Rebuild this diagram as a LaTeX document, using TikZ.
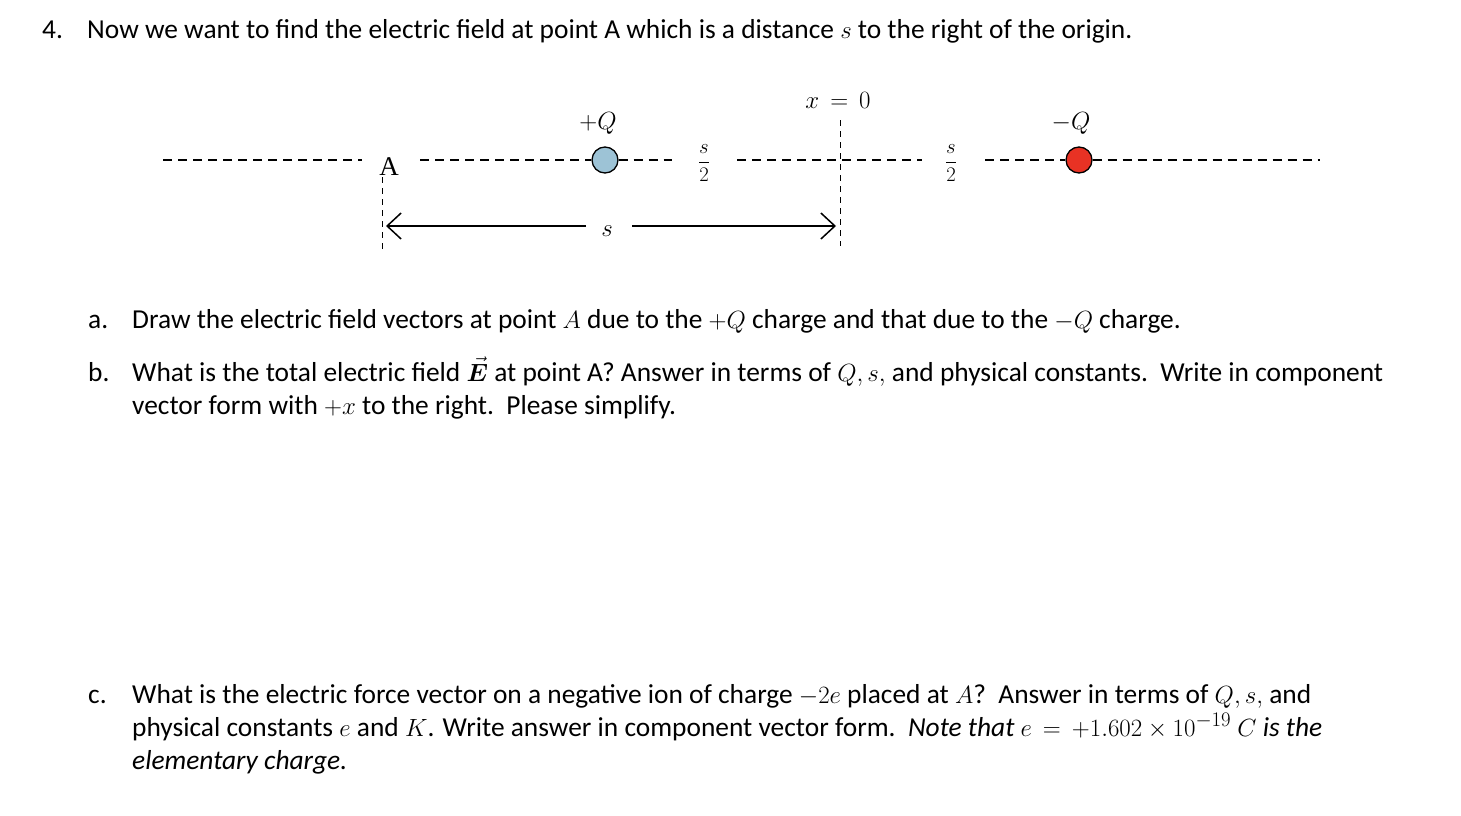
\documentclass[tikz,border=0pt]{standalone}
\usepackage{amsmath,bm}
\usepackage{fontspec}
\setmainfont{Carlito}
\usetikzlibrary{arrows.meta}
\begin{document}
\begin{tikzpicture}[x=1pt,y=-1pt,
  txt/.style={anchor=base west,inner sep=0pt,font=\fontsize{27.4}{30}\selectfont},
  dsh/.style={line width=1.4pt,dash pattern=on 9pt off 6pt},
  vd/.style={line width=1pt,dash pattern=on 6pt off 5pt},
  mth/.style={inner sep=0pt,font=\fontsize{26}{28}\selectfont},
  arr/.style={line width=1.5pt,-{Straight Barb[length=14pt,width=26pt,line width=1.5pt]}}]
\useasboundingbox (0,0) rectangle (1461,816);
\node[txt] (n4) at (42,38) {4.};
\node[txt] (t4) at (87,38) {Now we want to find the electric field at point A which is a distance $s$ to the right of the origin.};
% axis
\coordinate (l0) at (163,160); \coordinate (l1) at (362,160);
\draw[dsh] (l0) -- (l1);
\node[inner sep=0pt,font=\fontsize{27}{28}\selectfont] (A) at (389,167) {\fontspec{Liberation Serif}A};
\node[circle,draw=black,line width=1.3pt,fill={rgb,255:red,157;green,195;blue,214},minimum size=26pt,inner sep=0pt] (pq) at (605,160) {};
\node[circle,draw=black,line width=1.3pt,fill={rgb,255:red,232;green,50;blue,36},minimum size=26pt,inner sep=0pt] (nq) at (1079,160) {};
\coordinate (a1) at (420,160);
\draw[dsh] (a1) -- (pq.west);
\coordinate (a2) at (672,160);
\draw[dsh] (pq.east) -- (a2);
\coordinate (a3) at (737,160); \coordinate (a4) at (922,160);
\draw[dsh] (a3) -- (a4);
\coordinate (a5) at (985,160);
\draw[dsh] (a5) -- (nq.west);
\coordinate (a6) at (1320,160);
\draw[dsh] (nq.east) -- (a6);
\node[mth,font=\fontsize{22}{24}\selectfont] (h1) at (704,163) {$\dfrac{s}{2}$};
\node[mth,font=\fontsize{22}{24}\selectfont] (h2) at (951,163) {$\dfrac{s}{2}$};
\node[mth] (x0) at (838,100) {$x\,=\,0$};
\node[mth,font=\fontsize{30}{30}\selectfont] (qp) at (598,123) {$+Q$};
\node[mth,font=\fontsize{30}{30}\selectfont] (qn) at (1071,123) {$-Q$};
\coordinate (v0) at (840,120); \coordinate (v1) at (840,246);
\draw[vd] (v0) -- (v1);
\coordinate (w0) at (382,177); \coordinate (w1) at (382,252);
\draw[vd] (w0) -- (w1);
\node[mth,font=\fontsize{30}{30}\selectfont] (s) at (607,231) {$s$};
\coordinate (b0) at (386,226); \coordinate (b1) at (586,226);
\coordinate (c0) at (632,226); \coordinate (c1) at (836,226);
\draw[arr] (b1) -- (b0);
\draw[arr] (c0) -- (c1);
% questions
\node[txt] (la) at (88,328) {a.};
\node[txt] (ta) at (132,328) {Draw the electric field vectors at point $A$ due to the $+Q$ charge and that due to the $-Q$ charge.};
\node[txt] (lb) at (88,381) {b.};
\node[txt] (tb) at (132,381) {What is the total electric field $\vec{\bm E}$ at point A? Answer in terms of $Q, s,$ and physical constants.\ \ Write in component};
\node[txt] (tb2) at (132,414) {vector form with $+x$ to the right.\ \ Please simplify.};
\node[txt] (lc) at (88,703) {c.};
\node[txt] (tc) at (132,703) {What is the electric force vector on a negative ion of charge $-2e$ placed at $A$?\ \ Answer in terms of $Q, s,$ and};
\node[txt] (tc2) at (132,736) {physical constants $e$ and $K$. Write answer in component vector form.\ \ \textit{Note that $e\,=\,+1.602\times10^{-19}$ $C$ is the}};
\node[txt] (tc3) at (132,769) {\textit{elementary charge.}};
\end{tikzpicture}
\end{document}
